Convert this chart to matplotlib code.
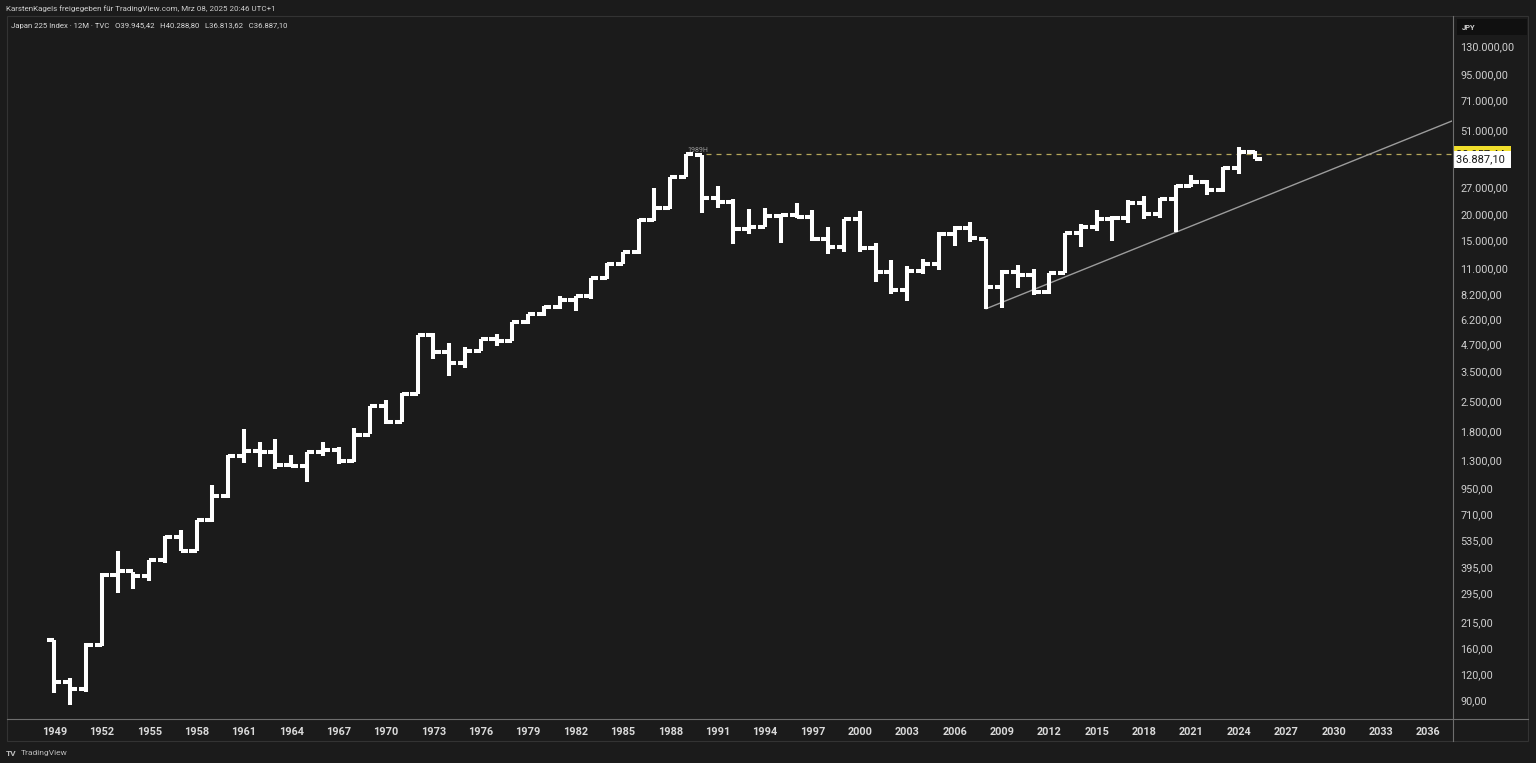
import numpy as np
import matplotlib
matplotlib.use("Agg")
import matplotlib.pyplot as plt
from matplotlib.lines import Line2D
from matplotlib.patches import Rectangle
from matplotlib.ticker import FixedLocator, FuncFormatter, NullLocator

plt.rcParams['font.family'] = ['Roboto', 'DejaVu Sans']

# yearly OHLC, Japan 225 (TVC), 1949 .. 2025
years = list(range(1949, 2026))
opens = [176.21, 109.91, 101.91, 166.06, 362.64, 377.95, 356.09, 425.69, 549.14, 474.55,
         666.54, 874.88, 1356.71, 1432.60, 1420.43, 1225.10, 1216.55, 1417.83, 1452.10, 1283.47,
         1714.89, 2358.96, 1987.14, 2713.74, 5207.94, 4306.80, 3817.22, 4358.60, 4990.52, 4865.60,
         6001.85, 6569.47, 7116.38, 7681.84, 8016.67, 9893.82, 11542.60, 13113.32, 18701.30, 21564.00,
         30159.00, 38712.88, 23848.71, 22983.77, 16924.95, 17417.24, 19723.06, 19868.15, 19361.35, 15258.74,
         13842.17, 18934.34, 13785.69, 10542.62, 8578.95, 10676.64, 11488.76, 16111.43, 17225.83, 15155.73,
         8859.56, 10546.44, 10228.92, 8455.35, 10395.18, 16291.31, 17450.77, 19033.71, 19114.37, 22764.94,
         20014.77, 23656.62, 27444.17, 28791.71, 26094.50, 33464.17, 39945.42]
highs = [176.21, 114.99, 170.60, 371.00, 474.43, 376.00, 427.00, 560.00, 595.46, 666.54,
         985.00, 1370.00, 1829.74, 1589.76, 1634.37, 1369.00, 1427.00, 1588.73, 1506.27, 1851.49,
         2358.96, 2534.45, 2740.98, 5207.94, 5359.74, 4787.54, 4564.52, 4990.52, 5287.65, 6001.85,
         6590.69, 7188.28, 8019.14, 8026.00, 9893.82, 11577.44, 13128.94, 18936.24, 26646.43, 30159.00,
         38957.44, 38712.88, 27270.72, 23801.18, 21148.11, 21552.81, 19868.15, 22666.80, 20910.79, 17352.95,
         18934.34, 20833.21, 14556.11, 11979.85, 11238.63, 12195.66, 16344.20, 17563.37, 18300.39, 15156.66,
         10767.00, 11408.17, 10891.60, 10433.63, 16320.22, 18030.83, 20952.71, 19592.90, 23382.15, 24448.07,
         24091.12, 27602.52, 30795.78, 29388.16, 33853.46, 42426.77, 40288.80]
lows = [97.50, 85.25, 98.00, 164.00, 295.18, 310.00, 340.00, 415.00, 471.00, 470.00,
        650.00, 851.00, 1258.00, 1200.00, 1180.00, 1202.70, 1020.49, 1364.34, 1250.14, 1266.27,
        1733.00, 1929.64, 1981.74, 2712.31, 4000.00, 3300.00, 3627.04, 4358.00, 4597.26, 4867.00,
        5930.00, 6475.93, 6956.51, 6849.78, 7803.00, 9703.35, 11545.00, 12881.50, 18544.05, 21217.04,
        30183.79, 20221.86, 21456.76, 14309.41, 16078.71, 17369.74, 14485.41, 19161.71, 14775.22, 12787.90,
        13122.66, 13182.51, 9382.95, 8197.22, 7603.76, 10299.43, 10770.58, 14045.53, 14669.85, 6994.90,
        7054.98, 8796.45, 8135.79, 8238.96, 10398.61, 13885.11, 16592.57, 14864.01, 18224.68, 18948.58,
        19241.37, 16358.19, 26954.81, 24681.74, 25661.89, 31156.12, 36813.62]
closes = [109.91, 101.91, 166.06, 362.64, 377.95, 356.09, 425.69, 549.14, 474.55, 666.54,
          874.88, 1356.71, 1432.60, 1420.43, 1225.10, 1216.55, 1417.83, 1452.10, 1283.47, 1714.89,
          2358.96, 1987.14, 2713.74, 5207.94, 4306.80, 3817.22, 4358.60, 4990.52, 4865.60, 6001.85,
          6569.47, 7116.38, 7681.84, 8016.67, 9893.82, 11542.60, 13113.32, 18701.30, 21564.00, 30159.00,
          38915.87, 23848.71, 22983.77, 16924.95, 17417.24, 19723.06, 19868.15, 19361.35, 15258.74, 13842.17,
          18934.34, 13785.69, 10542.62, 8578.95, 10676.64, 11488.76, 16111.43, 17225.83, 15307.78, 8859.56,
          10546.44, 10228.92, 8455.35, 10395.18, 16291.31, 17450.77, 19033.71, 19114.37, 22764.94, 20014.77,
          23656.62, 27444.17, 28791.71, 26094.50, 33464.17, 39894.54, 36887.10]

price_ticks = [90, 120, 160, 215, 295, 395, 535, 710, 950, 1300, 1800, 2500, 3500, 4700,
               6200, 8200, 11000, 15000, 20000, 27000, 51000, 71000, 95000, 130000]
year_ticks = list(range(1949, 2037, 3))
trend_years = [2008, 2020]   # trend line drawn through the lows of these years

header = "KarstenKagels freigegeben für TradingView.com, Mrz 08, 2025 20:46 UTC+1"
legend = "Japan 225 Index · 12M · TVC   O39.945,42   H40.288,80   L36.813,62   C36.887,10"

BG = '#1b1b1b'
GRID = '#333333'
TXT = '#cfcfcf'


def de(v):
    s = f"{v:,.2f}"
    return s.replace(',', 'X').replace('.', ',').replace('X', '.')


W, H = 1536, 763


def fx(x):
    return x / W


def fy(y):
    return 1 - y / H


fig = plt.figure(figsize=(15.36, 7.63), dpi=100, facecolor=BG)

# chart pane
left, right, top, bottom = 7, 1452, 16, 719
ax = fig.add_axes([fx(left), fy(bottom), fx(right - left), (bottom - top) / H])
ax.set_facecolor(BG)
ax.set_yscale('log')
ax.set_xlim(1946.0, 2037.5)
ax.set_ylim(72.9, 181500)

yrs = np.array(years, dtype=float)
w = 0.45
ax.vlines(yrs, lows, highs, color='white', lw=2.9, zorder=4)
ax.hlines(opens, yrs - w, yrs, color='white', lw=2.9, zorder=4)
ax.hlines(closes, yrs, yrs + w, color='white', lw=2.9, zorder=4)

# 1989 high ray
i89 = years.index(1989)
ax.hlines(highs[i89], 1989, 2037.5, color='#b3a55a', lw=0.9, linestyles=(0, (4, 4)), zorder=2)
ax.annotate("1989H", (1989.75, highs[i89]), xytext=(0, 0.5), textcoords='offset points',
            ha='center', va='bottom', fontsize=5, color='#9a9a9a', zorder=5)

# trend line through two lows
a, b = [years.index(t) for t in trend_years]
slope = (np.log10(lows[b]) - np.log10(lows[a])) / (trend_years[1] - trend_years[0])
tx = np.array([trend_years[0], 2037.5])
ty = 10 ** (np.log10(lows[a]) + slope * (tx - trend_years[0]))
ax.plot(tx, ty, color='#9c9c9c', lw=1.0, zorder=3)

# axes
for s in ax.spines.values():
    s.set_visible(False)
ax.yaxis.tick_right()
ax.yaxis.set_major_locator(FixedLocator(price_ticks))
ax.yaxis.set_minor_locator(NullLocator())
ax.yaxis.set_major_formatter(FuncFormatter(lambda v, p: de(v)))
ax.tick_params(axis='y', length=0, pad=6, labelsize=7.8, labelcolor=TXT)
ax.set_xticks(year_ticks)
ax.set_xticklabels([str(y) for y in year_ticks], fontweight='bold')
ax.tick_params(axis='x', length=0, pad=6, labelsize=7.8, labelcolor='#dadada')

# price labels on the scale (last price box covers most of the 1989H box)
ytr = ax.get_yaxis_transform()
ax.annotate(de(highs[i89]) + " ", (1.0, highs[i89]), xycoords=ytr, xytext=(3.2, 0),
            textcoords='offset points', ha='left', va='center', fontsize=8, color='#1a1a1a',
            annotation_clip=False, zorder=6,
            bbox=dict(boxstyle='square,pad=0.3', fc='#f2df2c', ec='none'))
ax.annotate(de(closes[-1]) + " ", (1.0, closes[-1]), xycoords=ytr, xytext=(3.2, 0),
            textcoords='offset points', ha='left', va='center', fontsize=8, color='#1a1a1a',
            annotation_clip=False, zorder=7,
            bbox=dict(boxstyle='square,pad=0.3', fc='#ffffff', ec='none'))

# pane frame and separators
fig.add_artist(Rectangle((fx(7), fy(741)), fx(1528 - 7), (741 - 16) / H, fill=False,
                         ec=GRID, lw=0.8, transform=fig.transFigure))
fig.add_artist(Line2D([fx(1453), fx(1453)], [fy(16), fy(741)], color='#6e6e6e', lw=0.8))
fig.add_artist(Line2D([fx(7), fx(1528)], [fy(719), fy(719)], color='#6e6e6e', lw=0.8))

# JPY box
fig.add_artist(Rectangle((fx(1457), fy(35)), fx(70), 16 / H, fc='#101010', ec='none',
                         transform=fig.transFigure))
fig.text(fx(1462), fy(27), "JPY", fontsize=5.5, fontweight='bold', color='#cfcfcf', va='center')

# header texts
fig.text(fx(6), fy(9), header, fontsize=5.8, color='#cccccc', va='center', ha='left')
fig.text(fx(11), fy(26), legend, fontsize=5.6, color='#d8d8d8', va='center', ha='left')

# footer logo
fig.text(fx(6), fy(753), "TV", fontsize=6, fontweight='bold', color='#bbbbbb', va='center')
fig.text(fx(21), fy(753), "TradingView", fontsize=6, color='#bbbbbb', va='center')

fig.savefig("out.png", dpi=100, facecolor=BG)
